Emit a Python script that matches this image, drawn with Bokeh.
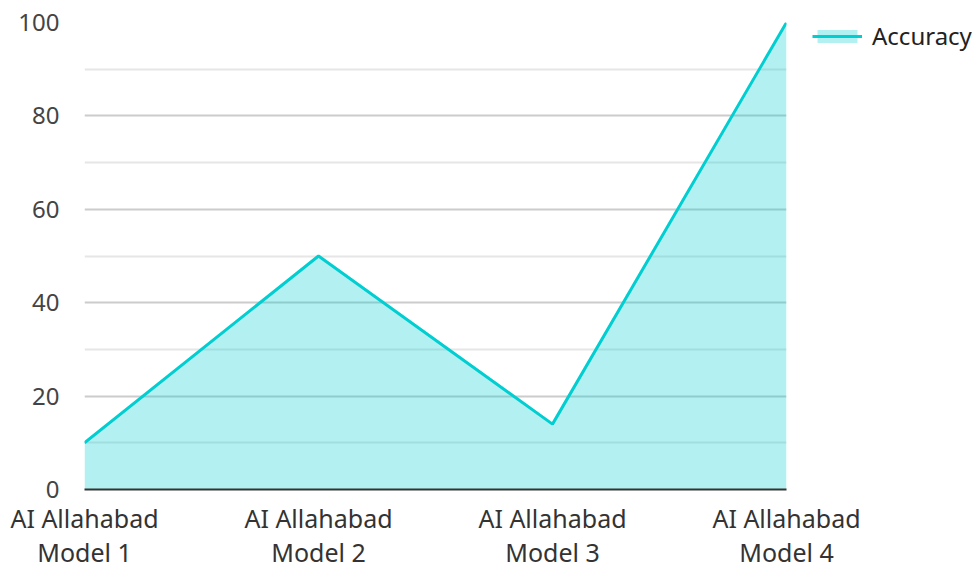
from bokeh.plotting import figure
from bokeh.models import Range1d, FixedTicker, Legend, LegendItem, ColumnDataSource
from bokeh.embed import file_html
from bokeh.resources import INLINE

categories = ["AI Allahabad\nModel 1", "AI Allahabad\nModel 2", "AI Allahabad\nModel 3", "AI Allahabad\nModel 4"]
accuracy = [10, 50, 14, 100]
y_ticks = [0, 20, 40, 60, 80, 100]
y_minor = [10, 30, 50, 70, 90]

xs = list(range(len(categories)))
src = ColumnDataSource(dict(x=xs, y=accuracy, y0=[0] * len(xs)))

FONT = "Noto Sans"

p = figure(frame_width=702, frame_height=467, output_backend="svg", toolbar_location=None,
           x_range=Range1d(0, len(categories) - 1), y_range=Range1d(0, 100),
           min_border_left=84, min_border_right=190, min_border_top=22, min_border_bottom=73)
p.outline_line_color = None
p.background_fill_color = "white"

area = p.varea(x="x", y1="y0", y2="y", source=src, fill_color="#00CED1", fill_alpha=0.3)
ln = p.line(x="x", y="y", source=src, line_color="#00CED1", line_width=3)

# axes
p.xaxis.ticker = FixedTicker(ticks=xs)
p.xaxis.major_label_overrides = {i: c for i, c in enumerate(categories)}
p.xaxis.axis_line_color = "#333333"
p.xaxis.axis_line_width = 2
p.xaxis.major_tick_line_color = None
p.xaxis.minor_tick_line_color = None
p.xaxis.major_label_standoff = 5
p.xaxis.major_label_text_font = FONT
p.xaxis.major_label_text_font_size = "25px"
p.xaxis.major_label_text_line_height = 1.0
p.xaxis.major_label_text_color = "#333333"

p.yaxis.ticker = FixedTicker(ticks=y_ticks, minor_ticks=y_minor)
p.yaxis.axis_line_color = None
p.yaxis.major_tick_line_color = None
p.yaxis.minor_tick_line_color = None
p.yaxis.major_label_standoff = 19
p.yaxis.major_label_text_font = FONT
p.yaxis.major_label_text_font_size = "24px"
p.yaxis.major_label_text_color = "#444444"

p.xgrid.grid_line_color = None
p.ygrid.grid_line_color = "#cccccc"
p.ygrid.grid_line_width = 2
p.ygrid.minor_grid_line_color = "#e6e6e6"
p.ygrid.minor_grid_line_width = 2

legend = Legend(items=[LegendItem(label="Accuracy", renderers=[area, ln])],
                location=(26, 437), padding=0, margin=0, spacing=0,
                glyph_width=50, glyph_height=16, label_standoff=10,
                label_text_font=FONT, label_text_font_size="24px",
                label_text_color="#222222", border_line_color=None,
                background_fill_alpha=0)
p.add_layout(legend, "right")

open("out.html", "w").write(file_html(p, INLINE))
